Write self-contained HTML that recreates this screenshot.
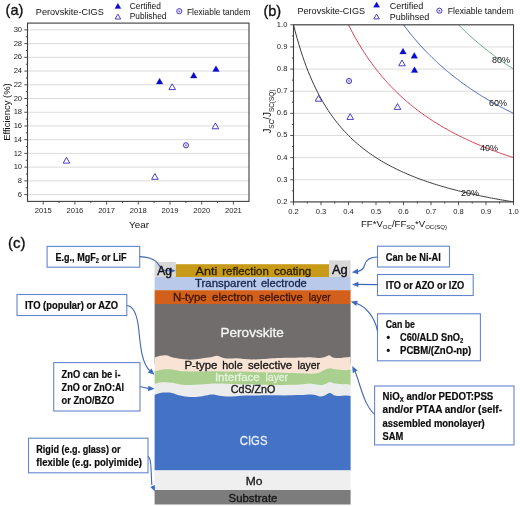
<!DOCTYPE html>
<html><head><meta charset="utf-8"><title>Perovskite-CIGS tandem</title>
<style>
html,body{margin:0;padding:0;background:#fff;}
body{width:520px;height:506px;overflow:hidden;}
svg{display:block;filter:blur(0.45px);}
text{font-family:"Liberation Sans",sans-serif;}
.t{font-size:7.6px;fill:#222;}
.lg{font-size:8.35px;fill:#111;}
.pc{font-size:9px;fill:#111;}
.ax{font-size:9.8px;fill:#111;}
.pl{font-size:14.2px;fill:#111;stroke:#111;stroke-width:0.35;}
.bx{font-size:10.2px;font-weight:bold;fill:#0c0c0c;stroke:#0c0c0c;stroke-width:0.2;}

.box{fill:#fff;stroke:#6485d0;stroke-width:1.1;}
.ar{fill:none;stroke:#3f66b4;stroke-width:1.1;}
.ah{fill:#3a6cc0;stroke:none;}
</style></head><body>
<svg width="520" height="506" viewBox="0 0 520 506">
<rect width="520" height="506" fill="#fff"/>
<g id="panel-a">
<line x1="27.5" x2="249.0" y1="194.60" y2="194.60" stroke="#dcdcdc" stroke-width="1"/>
<line x1="27.5" x2="249.0" y1="180.88" y2="180.88" stroke="#dcdcdc" stroke-width="1"/>
<line x1="27.5" x2="249.0" y1="167.15" y2="167.15" stroke="#dcdcdc" stroke-width="1"/>
<line x1="27.5" x2="249.0" y1="153.42" y2="153.42" stroke="#dcdcdc" stroke-width="1"/>
<line x1="27.5" x2="249.0" y1="139.70" y2="139.70" stroke="#dcdcdc" stroke-width="1"/>
<line x1="27.5" x2="249.0" y1="125.97" y2="125.97" stroke="#dcdcdc" stroke-width="1"/>
<line x1="27.5" x2="249.0" y1="112.25" y2="112.25" stroke="#dcdcdc" stroke-width="1"/>
<line x1="27.5" x2="249.0" y1="98.53" y2="98.53" stroke="#dcdcdc" stroke-width="1"/>
<line x1="27.5" x2="249.0" y1="84.80" y2="84.80" stroke="#dcdcdc" stroke-width="1"/>
<line x1="27.5" x2="249.0" y1="71.07" y2="71.07" stroke="#dcdcdc" stroke-width="1"/>
<line x1="27.5" x2="249.0" y1="57.35" y2="57.35" stroke="#dcdcdc" stroke-width="1"/>
<line x1="27.5" x2="249.0" y1="43.62" y2="43.62" stroke="#dcdcdc" stroke-width="1"/>
<line x1="27.5" x2="249.0" y1="29.90" y2="29.90" stroke="#dcdcdc" stroke-width="1"/>
<rect x="27.5" y="23.1" width="221.5" height="178.3" fill="none" stroke="#3e3e3e" stroke-width="1.1"/>
<line x1="24.3" x2="27.5" y1="194.60" y2="194.60" stroke="#3e3e3e" stroke-width="0.9"/>
<line x1="25.8" x2="27.5" y1="187.74" y2="187.74" stroke="#3e3e3e" stroke-width="0.9"/>
<line x1="24.3" x2="27.5" y1="180.88" y2="180.88" stroke="#3e3e3e" stroke-width="0.9"/>
<line x1="25.8" x2="27.5" y1="174.01" y2="174.01" stroke="#3e3e3e" stroke-width="0.9"/>
<line x1="24.3" x2="27.5" y1="167.15" y2="167.15" stroke="#3e3e3e" stroke-width="0.9"/>
<line x1="25.8" x2="27.5" y1="160.29" y2="160.29" stroke="#3e3e3e" stroke-width="0.9"/>
<line x1="24.3" x2="27.5" y1="153.42" y2="153.42" stroke="#3e3e3e" stroke-width="0.9"/>
<line x1="25.8" x2="27.5" y1="146.56" y2="146.56" stroke="#3e3e3e" stroke-width="0.9"/>
<line x1="24.3" x2="27.5" y1="139.70" y2="139.70" stroke="#3e3e3e" stroke-width="0.9"/>
<line x1="25.8" x2="27.5" y1="132.84" y2="132.84" stroke="#3e3e3e" stroke-width="0.9"/>
<line x1="24.3" x2="27.5" y1="125.97" y2="125.97" stroke="#3e3e3e" stroke-width="0.9"/>
<line x1="25.8" x2="27.5" y1="119.11" y2="119.11" stroke="#3e3e3e" stroke-width="0.9"/>
<line x1="24.3" x2="27.5" y1="112.25" y2="112.25" stroke="#3e3e3e" stroke-width="0.9"/>
<line x1="25.8" x2="27.5" y1="105.39" y2="105.39" stroke="#3e3e3e" stroke-width="0.9"/>
<line x1="24.3" x2="27.5" y1="98.53" y2="98.53" stroke="#3e3e3e" stroke-width="0.9"/>
<line x1="25.8" x2="27.5" y1="91.66" y2="91.66" stroke="#3e3e3e" stroke-width="0.9"/>
<line x1="24.3" x2="27.5" y1="84.80" y2="84.80" stroke="#3e3e3e" stroke-width="0.9"/>
<line x1="25.8" x2="27.5" y1="77.94" y2="77.94" stroke="#3e3e3e" stroke-width="0.9"/>
<line x1="24.3" x2="27.5" y1="71.07" y2="71.07" stroke="#3e3e3e" stroke-width="0.9"/>
<line x1="25.8" x2="27.5" y1="64.21" y2="64.21" stroke="#3e3e3e" stroke-width="0.9"/>
<line x1="24.3" x2="27.5" y1="57.35" y2="57.35" stroke="#3e3e3e" stroke-width="0.9"/>
<line x1="25.8" x2="27.5" y1="50.49" y2="50.49" stroke="#3e3e3e" stroke-width="0.9"/>
<line x1="24.3" x2="27.5" y1="43.62" y2="43.62" stroke="#3e3e3e" stroke-width="0.9"/>
<line x1="25.8" x2="27.5" y1="36.76" y2="36.76" stroke="#3e3e3e" stroke-width="0.9"/>
<line x1="24.3" x2="27.5" y1="29.90" y2="29.90" stroke="#3e3e3e" stroke-width="0.9"/>
<text class="t" x="22.1" y="196.70" text-anchor="end">6</text>
<text class="t" x="22.1" y="182.97" text-anchor="end">8</text>
<text class="t" x="22.1" y="169.25" text-anchor="end">10</text>
<text class="t" x="22.1" y="155.52" text-anchor="end">12</text>
<text class="t" x="22.1" y="141.80" text-anchor="end">14</text>
<text class="t" x="22.1" y="128.07" text-anchor="end">16</text>
<text class="t" x="22.1" y="114.35" text-anchor="end">18</text>
<text class="t" x="22.1" y="100.62" text-anchor="end">20</text>
<text class="t" x="22.1" y="86.90" text-anchor="end">22</text>
<text class="t" x="22.1" y="73.17" text-anchor="end">24</text>
<text class="t" x="22.1" y="59.45" text-anchor="end">26</text>
<text class="t" x="22.1" y="45.73" text-anchor="end">28</text>
<text class="t" x="22.1" y="32.00" text-anchor="end">30</text>
<line x1="43.20" x2="43.20" y1="201.4" y2="204.6" stroke="#3e3e3e" stroke-width="0.9"/>
<line x1="59.05" x2="59.05" y1="201.4" y2="203.1" stroke="#3e3e3e" stroke-width="0.9"/>
<line x1="74.90" x2="74.90" y1="201.4" y2="204.6" stroke="#3e3e3e" stroke-width="0.9"/>
<line x1="90.75" x2="90.75" y1="201.4" y2="203.1" stroke="#3e3e3e" stroke-width="0.9"/>
<line x1="106.60" x2="106.60" y1="201.4" y2="204.6" stroke="#3e3e3e" stroke-width="0.9"/>
<line x1="122.45" x2="122.45" y1="201.4" y2="203.1" stroke="#3e3e3e" stroke-width="0.9"/>
<line x1="138.30" x2="138.30" y1="201.4" y2="204.6" stroke="#3e3e3e" stroke-width="0.9"/>
<line x1="154.15" x2="154.15" y1="201.4" y2="203.1" stroke="#3e3e3e" stroke-width="0.9"/>
<line x1="170.00" x2="170.00" y1="201.4" y2="204.6" stroke="#3e3e3e" stroke-width="0.9"/>
<line x1="185.85" x2="185.85" y1="201.4" y2="203.1" stroke="#3e3e3e" stroke-width="0.9"/>
<line x1="201.70" x2="201.70" y1="201.4" y2="204.6" stroke="#3e3e3e" stroke-width="0.9"/>
<line x1="217.55" x2="217.55" y1="201.4" y2="203.1" stroke="#3e3e3e" stroke-width="0.9"/>
<line x1="233.40" x2="233.40" y1="201.4" y2="204.6" stroke="#3e3e3e" stroke-width="0.9"/>
<text class="t" x="43.20" y="212.9" text-anchor="middle">2015</text>
<text class="t" x="74.90" y="212.9" text-anchor="middle">2016</text>
<text class="t" x="106.60" y="212.9" text-anchor="middle">2017</text>
<text class="t" x="138.30" y="212.9" text-anchor="middle">2018</text>
<text class="t" x="170.00" y="212.9" text-anchor="middle">2019</text>
<text class="t" x="201.70" y="212.9" text-anchor="middle">2020</text>
<text class="t" x="233.40" y="212.9" text-anchor="middle">2021</text>
<text class="ax" x="139" y="227.5" text-anchor="middle">Year</text>
<text class="ax" transform="translate(9.7,112) rotate(-90)" text-anchor="middle" style="font-size:9.45px">Efficiency (%)</text>
<text class="pl" x="5.6" y="14.6" style="font-size:14.6px">(a)</text>
<text class="pc" x="35.8" y="15" textLength="68" lengthAdjust="spacingAndGlyphs">Perovskite-CIGS</text>
<polygon points="117.9,3.3 114.9,8.5 120.9,8.5" fill="#0a0acd" stroke="#0a0acd" stroke-width="0.3"/>
<polygon points="117.9,14.2 115.1,19.0 120.7,19.0" fill="#fff" stroke="#4a3fc4" stroke-width="1"/>
<text class="lg" x="129.8" y="9.1">Certified</text>
<text class="lg" x="129.8" y="19.3">Published</text>
<circle cx="179.3" cy="11.2" r="2.6" fill="#e4e2f6" stroke="#4a3fc4" stroke-width="1"/><circle cx="179.3" cy="11.2" r="0.7" fill="#4a3fc4"/>
<text class="lg" x="187" y="14.9" textLength="63.5" lengthAdjust="spacingAndGlyphs">Flexiable tandem</text>
<polygon points="159.6,78.2 156.3,84.0 162.9,84.0" fill="#0a0acd" stroke="#0a0acd" stroke-width="0.3"/>
<polygon points="193.7,72.3 190.4,78.1 197.0,78.1" fill="#0a0acd" stroke="#0a0acd" stroke-width="0.3"/>
<polygon points="216.0,65.7 212.7,71.5 219.3,71.5" fill="#0a0acd" stroke="#0a0acd" stroke-width="0.3"/>
<polygon points="66.5,157.3 63.2,163.1 69.8,163.1" fill="#fff" stroke="#4a3fc4" stroke-width="1"/>
<polygon points="154.9,173.5 151.6,179.3 158.2,179.3" fill="#fff" stroke="#4a3fc4" stroke-width="1"/>
<polygon points="172.2,83.8 168.9,89.6 175.5,89.6" fill="#fff" stroke="#4a3fc4" stroke-width="1"/>
<polygon points="215.4,123.0 212.1,128.8 218.7,128.8" fill="#fff" stroke="#4a3fc4" stroke-width="1"/>
<circle cx="186.0" cy="145.3" r="2.6" fill="#e4e2f6" stroke="#4a3fc4" stroke-width="1"/><circle cx="186.0" cy="145.3" r="0.7" fill="#4a3fc4"/>
</g>
<g id="panel-b">
<line x1="293.5" x2="513.5" y1="201.90" y2="201.90" stroke="#dcdcdc" stroke-width="1"/>
<line x1="293.5" x2="513.5" y1="179.76" y2="179.76" stroke="#dcdcdc" stroke-width="1"/>
<line x1="293.5" x2="513.5" y1="157.62" y2="157.62" stroke="#dcdcdc" stroke-width="1"/>
<line x1="293.5" x2="513.5" y1="135.49" y2="135.49" stroke="#dcdcdc" stroke-width="1"/>
<line x1="293.5" x2="513.5" y1="113.35" y2="113.35" stroke="#dcdcdc" stroke-width="1"/>
<line x1="293.5" x2="513.5" y1="91.21" y2="91.21" stroke="#dcdcdc" stroke-width="1"/>
<line x1="293.5" x2="513.5" y1="69.07" y2="69.07" stroke="#dcdcdc" stroke-width="1"/>
<line x1="293.5" x2="513.5" y1="46.94" y2="46.94" stroke="#dcdcdc" stroke-width="1"/>
<line x1="293.5" x2="513.5" y1="24.80" y2="24.80" stroke="#dcdcdc" stroke-width="1"/>
<clipPath id="cb"><rect x="293.5" y="24.8" width="220.0" height="177.1"/></clipPath>
<polyline clip-path="url(#cb)" points="293.50,24.80 295.33,31.94 297.17,38.64 299.00,44.93 300.83,50.84 302.67,56.42 304.50,61.70 306.33,66.68 308.17,71.41 310.00,75.89 311.83,80.14 313.67,84.19 315.50,88.05 317.33,91.73 319.17,95.24 321.00,98.59 322.83,101.80 324.67,104.87 326.50,107.82 328.33,110.64 330.17,113.35 332.00,115.95 333.83,118.46 335.67,120.87 337.50,123.19 339.33,125.43 341.17,127.58 343.00,129.66 344.83,131.67 346.67,133.61 348.50,135.49 350.33,137.30 352.17,139.06 354.00,140.76 355.83,142.41 357.67,144.00 359.50,145.55 361.33,147.05 363.17,148.51 365.00,149.93 366.83,151.30 368.67,152.64 370.50,153.94 372.33,155.20 374.17,156.43 376.00,157.62 377.83,158.79 379.67,159.93 381.50,161.03 383.33,162.11 385.17,163.16 387.00,164.18 388.83,165.18 390.67,166.16 392.50,167.11 394.33,168.04 396.17,168.95 398.00,169.84 399.83,170.71 401.67,171.55 403.50,172.38 405.33,173.19 407.17,173.99 409.00,174.76 410.83,175.52 412.67,176.27 414.50,177.00 416.33,177.71 418.17,178.41 420.00,179.09 421.83,179.76 423.67,180.42 425.50,181.06 427.33,181.70 429.17,182.32 431.00,182.93 432.83,183.52 434.67,184.11 436.50,184.68 438.33,185.25 440.17,185.80 442.00,186.34 443.83,186.88 445.67,187.40 447.50,187.92 449.33,188.43 451.17,188.92 453.00,189.41 454.83,189.89 456.67,190.37 458.50,190.83 460.33,191.29 462.17,191.74 464.00,192.18 465.83,192.62 467.67,193.04 469.50,193.47 471.33,193.88 473.17,194.29 475.00,194.69 476.83,195.09 478.67,195.48 480.50,195.86 482.33,196.24 484.17,196.61 486.00,196.98 487.83,197.34 489.67,197.70 491.50,198.05 493.33,198.40 495.17,198.74 497.00,199.07 498.83,199.41 500.67,199.73 502.50,200.06 504.33,200.37 506.17,200.69 508.00,201.00 509.83,201.30 511.67,201.60 513.50,201.90" fill="none" stroke="#3c3c3c" stroke-width="1"/>
<polyline clip-path="url(#cb)" points="348.50,24.80 349.88,27.53 351.25,30.20 352.62,32.80 354.00,35.34 355.38,37.82 356.75,40.24 358.12,42.61 359.50,44.92 360.88,47.19 362.25,49.40 363.62,51.56 365.00,53.68 366.38,55.74 367.75,57.77 369.12,59.75 370.50,61.70 371.88,63.60 373.25,65.46 374.62,67.29 376.00,69.07 377.38,70.83 378.75,72.55 380.12,74.23 381.50,75.89 382.88,77.51 384.25,79.10 385.62,80.66 387.00,82.19 388.38,83.70 389.75,85.17 391.12,86.63 392.50,88.05 393.88,89.45 395.25,90.82 396.62,92.17 398.00,93.50 399.38,94.81 400.75,96.09 402.12,97.35 403.50,98.59 404.88,99.81 406.25,101.01 407.62,102.19 409.00,103.35 410.38,104.50 411.75,105.62 413.12,106.73 414.50,107.82 415.88,108.89 417.25,109.94 418.62,110.98 420.00,112.01 421.38,113.02 422.75,114.01 424.12,114.99 425.50,115.95 426.88,116.90 428.25,117.84 429.62,118.76 431.00,119.67 432.38,120.57 433.75,121.46 435.12,122.33 436.50,123.19 437.88,124.04 439.25,124.87 440.62,125.70 442.00,126.51 443.38,127.32 444.75,128.11 446.13,128.89 447.50,129.66 448.88,130.42 450.25,131.18 451.62,131.92 453.00,132.65 454.38,133.37 455.75,134.09 457.12,134.79 458.50,135.49 459.88,136.18 461.25,136.85 462.62,137.52 464.00,138.19 465.38,138.84 466.75,139.49 468.12,140.13 469.50,140.76 470.88,141.38 472.25,142.00 473.62,142.61 475.00,143.21 476.38,143.81 477.75,144.39 479.12,144.97 480.50,145.55 481.88,146.12 483.25,146.68 484.62,147.24 486.00,147.79 487.38,148.33 488.75,148.87 490.12,149.40 491.50,149.93 492.88,150.45 494.25,150.96 495.62,151.47 497.00,151.97 498.37,152.47 499.75,152.96 501.12,153.45 502.50,153.94 503.88,154.41 505.25,154.89 506.62,155.35 508.00,155.82 509.38,156.28 510.75,156.73 512.12,157.18 513.50,157.62" fill="none" stroke="#d83c4c" stroke-width="1"/>
<polyline clip-path="url(#cb)" points="403.50,24.80 404.42,26.02 405.33,27.23 406.25,28.43 407.17,29.61 408.08,30.78 409.00,31.94 409.92,33.09 410.83,34.22 411.75,35.34 412.67,36.45 413.58,37.55 414.50,38.64 415.42,39.71 416.33,40.78 417.25,41.83 418.17,42.87 419.08,43.90 420.00,44.93 420.92,45.94 421.83,46.94 422.75,47.93 423.67,48.91 424.58,49.88 425.50,50.84 426.42,51.80 427.33,52.74 428.25,53.67 429.17,54.60 430.08,55.52 431.00,56.42 431.92,57.32 432.83,58.22 433.75,59.10 434.67,59.97 435.58,60.84 436.50,61.70 437.42,62.55 438.33,63.39 439.25,64.22 440.17,65.05 441.08,65.87 442.00,66.68 442.92,67.49 443.83,68.28 444.75,69.08 445.67,69.86 446.58,70.64 447.50,71.41 448.42,72.17 449.33,72.93 450.25,73.68 451.17,74.42 452.08,75.16 453.00,75.89 453.92,76.61 454.83,77.33 455.75,78.04 456.67,78.75 457.58,79.45 458.50,80.14 459.42,80.83 460.33,81.52 461.25,82.19 462.17,82.87 463.08,83.53 464.00,84.19 464.92,84.85 465.83,85.50 466.75,86.14 467.67,86.79 468.58,87.42 469.50,88.05 470.42,88.68 471.33,89.30 472.25,89.91 473.17,90.52 474.08,91.13 475.00,91.73 475.92,92.32 476.83,92.92 477.75,93.50 478.67,94.09 479.58,94.66 480.50,95.24 481.42,95.81 482.33,96.37 483.25,96.93 484.17,97.49 485.08,98.04 486.00,98.59 486.92,99.14 487.83,99.68 488.75,100.21 489.67,100.75 490.58,101.28 491.50,101.80 492.42,102.32 493.33,102.84 494.25,103.35 495.17,103.86 496.08,104.37 497.00,104.87 497.92,105.37 498.83,105.87 499.75,106.36 500.67,106.85 501.58,107.33 502.50,107.82 503.42,108.29 504.33,108.77 505.25,109.24 506.17,109.71 507.08,110.18 508.00,110.64 508.92,111.10 509.83,111.56 510.75,112.01 511.67,112.46 512.58,112.91 513.50,113.35" fill="none" stroke="#3f62b8" stroke-width="1"/>
<polyline clip-path="url(#cb)" points="458.50,24.80 458.96,25.26 459.42,25.72 459.88,26.18 460.33,26.63 460.79,27.08 461.25,27.53 461.71,27.98 462.17,28.43 462.62,28.87 463.08,29.32 463.54,29.76 464.00,30.20 464.46,30.64 464.92,31.07 465.38,31.51 465.83,31.94 466.29,32.37 466.75,32.80 467.21,33.23 467.67,33.66 468.12,34.08 468.58,34.50 469.04,34.92 469.50,35.34 469.96,35.76 470.42,36.18 470.88,36.59 471.33,37.00 471.79,37.41 472.25,37.82 472.71,38.23 473.17,38.64 473.62,39.04 474.08,39.44 474.54,39.84 475.00,40.24 475.46,40.64 475.92,41.04 476.38,41.44 476.83,41.83 477.29,42.22 477.75,42.61 478.21,43.00 478.67,43.39 479.12,43.77 479.58,44.16 480.04,44.54 480.50,44.92 480.96,45.31 481.42,45.68 481.88,46.06 482.33,46.44 482.79,46.81 483.25,47.19 483.71,47.56 484.17,47.93 484.62,48.30 485.08,48.67 485.54,49.03 486.00,49.40 486.46,49.76 486.92,50.12 487.38,50.48 487.83,50.84 488.29,51.20 488.75,51.56 489.21,51.92 489.67,52.27 490.12,52.62 490.58,52.98 491.04,53.33 491.50,53.68 491.96,54.02 492.42,54.37 492.88,54.72 493.33,55.06 493.79,55.40 494.25,55.74 494.71,56.09 495.17,56.42 495.62,56.76 496.08,57.10 496.54,57.44 497.00,57.77 497.46,58.10 497.92,58.44 498.38,58.77 498.83,59.10 499.29,59.43 499.75,59.75 500.21,60.08 500.67,60.41 501.12,60.73 501.58,61.05 502.04,61.38 502.50,61.70 502.96,62.02 503.42,62.33 503.88,62.65 504.33,62.97 504.79,63.28 505.25,63.60 505.71,63.91 506.17,64.22 506.62,64.53 507.08,64.84 507.54,65.15 508.00,65.46 508.46,65.77 508.92,66.07 509.38,66.38 509.83,66.68 510.29,66.98 510.75,67.29 511.21,67.59 511.67,67.89 512.12,68.19 512.58,68.48 513.04,68.78 513.50,69.07" fill="none" stroke="#4f9a78" stroke-width="1"/>
<rect x="293.5" y="24.8" width="220.0" height="177.1" fill="none" stroke="#3e3e3e" stroke-width="1.1"/>
<line x1="290.3" x2="293.5" y1="201.90" y2="201.90" stroke="#3e3e3e" stroke-width="0.9"/>
<line x1="293.50" x2="293.50" y1="201.9" y2="205.1" stroke="#3e3e3e" stroke-width="0.9"/>
<line x1="291.8" x2="293.5" y1="190.83" y2="190.83" stroke="#3e3e3e" stroke-width="0.9"/>
<line x1="307.25" x2="307.25" y1="201.9" y2="203.6" stroke="#3e3e3e" stroke-width="0.9"/>
<line x1="290.3" x2="293.5" y1="179.76" y2="179.76" stroke="#3e3e3e" stroke-width="0.9"/>
<line x1="321.00" x2="321.00" y1="201.9" y2="205.1" stroke="#3e3e3e" stroke-width="0.9"/>
<line x1="291.8" x2="293.5" y1="168.69" y2="168.69" stroke="#3e3e3e" stroke-width="0.9"/>
<line x1="334.75" x2="334.75" y1="201.9" y2="203.6" stroke="#3e3e3e" stroke-width="0.9"/>
<line x1="290.3" x2="293.5" y1="157.62" y2="157.62" stroke="#3e3e3e" stroke-width="0.9"/>
<line x1="348.50" x2="348.50" y1="201.9" y2="205.1" stroke="#3e3e3e" stroke-width="0.9"/>
<line x1="291.8" x2="293.5" y1="146.56" y2="146.56" stroke="#3e3e3e" stroke-width="0.9"/>
<line x1="362.25" x2="362.25" y1="201.9" y2="203.6" stroke="#3e3e3e" stroke-width="0.9"/>
<line x1="290.3" x2="293.5" y1="135.49" y2="135.49" stroke="#3e3e3e" stroke-width="0.9"/>
<line x1="376.00" x2="376.00" y1="201.9" y2="205.1" stroke="#3e3e3e" stroke-width="0.9"/>
<line x1="291.8" x2="293.5" y1="124.42" y2="124.42" stroke="#3e3e3e" stroke-width="0.9"/>
<line x1="389.75" x2="389.75" y1="201.9" y2="203.6" stroke="#3e3e3e" stroke-width="0.9"/>
<line x1="290.3" x2="293.5" y1="113.35" y2="113.35" stroke="#3e3e3e" stroke-width="0.9"/>
<line x1="403.50" x2="403.50" y1="201.9" y2="205.1" stroke="#3e3e3e" stroke-width="0.9"/>
<line x1="291.8" x2="293.5" y1="102.28" y2="102.28" stroke="#3e3e3e" stroke-width="0.9"/>
<line x1="417.25" x2="417.25" y1="201.9" y2="203.6" stroke="#3e3e3e" stroke-width="0.9"/>
<line x1="290.3" x2="293.5" y1="91.21" y2="91.21" stroke="#3e3e3e" stroke-width="0.9"/>
<line x1="431.00" x2="431.00" y1="201.9" y2="205.1" stroke="#3e3e3e" stroke-width="0.9"/>
<line x1="291.8" x2="293.5" y1="80.14" y2="80.14" stroke="#3e3e3e" stroke-width="0.9"/>
<line x1="444.75" x2="444.75" y1="201.9" y2="203.6" stroke="#3e3e3e" stroke-width="0.9"/>
<line x1="290.3" x2="293.5" y1="69.07" y2="69.07" stroke="#3e3e3e" stroke-width="0.9"/>
<line x1="458.50" x2="458.50" y1="201.9" y2="205.1" stroke="#3e3e3e" stroke-width="0.9"/>
<line x1="291.8" x2="293.5" y1="58.01" y2="58.01" stroke="#3e3e3e" stroke-width="0.9"/>
<line x1="472.25" x2="472.25" y1="201.9" y2="203.6" stroke="#3e3e3e" stroke-width="0.9"/>
<line x1="290.3" x2="293.5" y1="46.94" y2="46.94" stroke="#3e3e3e" stroke-width="0.9"/>
<line x1="486.00" x2="486.00" y1="201.9" y2="205.1" stroke="#3e3e3e" stroke-width="0.9"/>
<line x1="291.8" x2="293.5" y1="35.87" y2="35.87" stroke="#3e3e3e" stroke-width="0.9"/>
<line x1="499.75" x2="499.75" y1="201.9" y2="203.6" stroke="#3e3e3e" stroke-width="0.9"/>
<line x1="290.3" x2="293.5" y1="24.80" y2="24.80" stroke="#3e3e3e" stroke-width="0.9"/>
<line x1="513.50" x2="513.50" y1="201.9" y2="205.1" stroke="#3e3e3e" stroke-width="0.9"/>
<text class="t" x="287.4" y="203.80" text-anchor="end">0.2</text>
<text class="t" x="293.50" y="214.3" text-anchor="middle">0.2</text>
<text class="t" x="287.4" y="181.66" text-anchor="end">0.3</text>
<text class="t" x="321.00" y="214.3" text-anchor="middle">0.3</text>
<text class="t" x="287.4" y="159.53" text-anchor="end">0.4</text>
<text class="t" x="348.50" y="214.3" text-anchor="middle">0.4</text>
<text class="t" x="287.4" y="137.39" text-anchor="end">0.5</text>
<text class="t" x="376.00" y="214.3" text-anchor="middle">0.5</text>
<text class="t" x="287.4" y="115.25" text-anchor="end">0.6</text>
<text class="t" x="403.50" y="214.3" text-anchor="middle">0.6</text>
<text class="t" x="287.4" y="93.11" text-anchor="end">0.7</text>
<text class="t" x="431.00" y="214.3" text-anchor="middle">0.7</text>
<text class="t" x="287.4" y="70.97" text-anchor="end">0.8</text>
<text class="t" x="458.50" y="214.3" text-anchor="middle">0.8</text>
<text class="t" x="287.4" y="48.84" text-anchor="end">0.9</text>
<text class="t" x="486.00" y="214.3" text-anchor="middle">0.9</text>
<text class="t" x="287.4" y="26.70" text-anchor="end">1.0</text>
<text class="t" x="513.50" y="214.3" text-anchor="middle">1.0</text>
<text class="pc" x="492" y="63.2">80%</text>
<text class="pc" x="489" y="106.2">60%</text>
<text class="pc" x="480" y="150.6">40%</text>
<text class="pc" x="461" y="196">20%</text>
<text class="ax" x="361" y="227.4" textLength="86" lengthAdjust="spacingAndGlyphs">FF*V<tspan dy="2" font-size="6.2px">OC</tspan><tspan dy="-2">/FF</tspan><tspan dy="2" font-size="6.2px">SQ</tspan><tspan dy="-2">*V</tspan><tspan dy="2" font-size="6.2px">OC(SQ)</tspan></text>
<text class="ax" transform="translate(271.4,133.5) rotate(-90)" style="font-size:10.2px" textLength="44" lengthAdjust="spacingAndGlyphs">J<tspan dy="2.4" font-size="6.8px">SC</tspan><tspan dy="-2.4">/J</tspan><tspan dy="2.4" font-size="6.8px">SC(SQ)</tspan></text>
<text class="pl" x="263.4" y="15.9" style="font-size:14.6px">(b)</text>
<text class="pc" x="297.5" y="13.8" textLength="67.5" lengthAdjust="spacingAndGlyphs">Perovskite-CIGS</text>
<polygon points="376.6,2.0 373.5,7.2 379.7,7.2" fill="#0a0acd" stroke="#0a0acd" stroke-width="0.3"/>
<polygon points="376.6,14.1 373.8,18.9 379.4,18.9" fill="#fff" stroke="#4a3fc4" stroke-width="1"/>
<text class="pc" x="389.8" y="8.7">Certified</text>
<text class="pc" x="389.8" y="19.6">Publihsed</text>
<circle cx="439.4" cy="10.7" r="2.6" fill="#e4e2f6" stroke="#4a3fc4" stroke-width="1"/><circle cx="439.4" cy="10.7" r="0.7" fill="#4a3fc4"/>
<text class="pc" x="447.7" y="13.9" textLength="66" lengthAdjust="spacingAndGlyphs">Flexiable tandem</text>
<polygon points="403.0,48.2 399.7,54.0 406.3,54.0" fill="#0a0acd" stroke="#0a0acd" stroke-width="0.3"/>
<polygon points="414.3,52.4 411.0,58.2 417.6,58.2" fill="#0a0acd" stroke="#0a0acd" stroke-width="0.3"/>
<polygon points="414.5,66.8 411.2,72.6 417.8,72.6" fill="#0a0acd" stroke="#0a0acd" stroke-width="0.3"/>
<polygon points="402.0,60.0 398.7,65.8 405.3,65.8" fill="#fff" stroke="#4a3fc4" stroke-width="1"/>
<polygon points="397.5,103.6 394.2,109.4 400.8,109.4" fill="#fff" stroke="#4a3fc4" stroke-width="1"/>
<polygon points="318.5,95.4 315.2,101.2 321.8,101.2" fill="#fff" stroke="#4a3fc4" stroke-width="1"/>
<polygon points="350.2,113.6 346.9,119.4 353.5,119.4" fill="#fff" stroke="#4a3fc4" stroke-width="1"/>
<circle cx="349.0" cy="81.0" r="2.6" fill="#e4e2f6" stroke="#4a3fc4" stroke-width="1"/><circle cx="349.0" cy="81.0" r="0.7" fill="#4a3fc4"/>
</g>
<g id="panel-c">
<text class="pl" x="8" y="248.3" style="font-size:15px">(c)</text>
<rect x="154.6" y="261.9" width="21.2" height="15.2" fill="#d8d8d8"/>
<rect x="329" y="260.4" width="21.6" height="16.8" fill="#d8d8d8"/>
<rect x="175.8" y="264.2" width="153.2" height="13" fill="#c79a17"/>
<rect x="154.6" y="277" width="196.0" height="13.4" fill="#b9c9ea"/>
<rect x="154.6" y="290.2" width="196.0" height="14" fill="#d3601a"/>
<rect x="154.6" y="304" width="196.0" height="60" fill="#726d6d"/>
<path d="M154.6,357.8 L154.6,357.8 C155.5,357.5 158.1,356.2 160.0,355.8 C161.9,355.4 164.0,355.0 166.0,355.2 C168.0,355.4 169.7,356.6 172.0,357.2 C174.3,357.8 177.3,358.4 180.0,358.8 C182.7,359.2 185.3,359.5 188.0,359.6 C190.7,359.7 193.3,359.5 196.0,359.2 C198.7,358.9 201.3,358.4 204.0,358.0 C206.7,357.6 209.8,357.4 212.0,357.0 C214.2,356.6 215.3,355.7 217.0,355.8 C218.7,355.9 220.2,356.9 222.0,357.4 C223.8,357.9 225.7,358.5 228.0,358.6 C230.3,358.7 233.3,358.1 236.0,358.2 C238.7,358.3 241.3,358.8 244.0,359.0 C246.7,359.2 249.3,359.4 252.0,359.4 C254.7,359.4 257.0,359.4 260.0,359.2 C263.0,359.0 266.7,358.6 270.0,358.4 C273.3,358.2 276.3,358.1 280.0,358.0 C283.7,357.9 288.0,357.9 292.0,357.8 C296.0,357.7 300.7,357.7 304.0,357.6 C307.3,357.5 309.3,357.3 312.0,357.4 C314.7,357.4 317.8,358.0 320.0,357.9 C322.2,357.8 323.4,357.4 325.0,357.0 C326.6,356.6 328.0,355.2 329.3,355.3 C330.6,355.4 331.0,357.0 332.7,357.4 C334.4,357.8 337.6,357.9 339.6,357.9 C341.6,357.9 342.8,357.5 344.6,357.4 C346.4,357.2 349.6,357.1 350.6,357.0 L350.6,370.4 C349.7,370.5 346.8,370.8 345.0,370.8 C343.2,370.8 341.7,370.6 340.0,370.4 C338.3,370.3 336.4,370.2 334.7,369.9 C333.0,369.7 331.4,368.8 329.8,368.9 C328.2,369.0 326.4,369.8 324.8,370.4 C323.2,371.1 321.6,372.2 320.0,372.8 C318.4,373.4 317.5,374.0 315.0,374.2 C312.5,374.4 309.2,374.1 305.0,374.0 C300.8,373.9 295.0,373.7 290.0,373.6 C285.0,373.5 280.0,373.3 275.0,373.2 C270.0,373.1 264.5,372.9 260.0,372.8 C255.5,372.7 252.0,372.5 248.0,372.4 C244.0,372.3 240.0,372.3 236.0,372.2 C232.0,372.1 228.0,372.1 224.0,372.0 C220.0,371.9 216.0,371.8 212.0,371.8 C208.0,371.8 203.7,372.0 200.0,372.0 C196.3,372.0 193.3,372.1 190.0,372.0 C186.7,371.9 183.0,371.9 180.0,371.6 C177.0,371.3 174.3,370.5 172.0,370.2 C169.7,369.9 168.0,369.7 166.0,369.8 C164.0,369.9 161.9,370.2 160.0,370.6 C158.1,371.0 155.5,371.9 154.6,372.2 Z" fill="#f8e3d5"/>
<path d="M154.6,371.6 L154.6,371.6 C155.5,371.3 158.1,370.4 160.0,370.0 C161.9,369.6 164.0,369.3 166.0,369.2 C168.0,369.1 169.7,369.3 172.0,369.6 C174.3,369.9 177.0,370.7 180.0,371.0 C183.0,371.3 186.7,371.3 190.0,371.4 C193.3,371.5 196.3,371.4 200.0,371.4 C203.7,371.4 208.0,371.2 212.0,371.2 C216.0,371.2 220.0,371.3 224.0,371.4 C228.0,371.5 232.0,371.5 236.0,371.6 C240.0,371.7 244.0,371.7 248.0,371.8 C252.0,371.9 255.5,372.1 260.0,372.2 C264.5,372.3 270.0,372.5 275.0,372.6 C280.0,372.7 285.0,372.9 290.0,373.0 C295.0,373.1 300.8,373.3 305.0,373.4 C309.2,373.5 312.5,373.8 315.0,373.6 C317.5,373.4 318.4,372.8 320.0,372.2 C321.6,371.6 323.2,370.4 324.8,369.8 C326.4,369.2 328.2,368.4 329.8,368.3 C331.4,368.2 333.0,369.1 334.7,369.3 C336.4,369.6 338.3,369.7 340.0,369.8 C341.7,369.9 343.2,370.2 345.0,370.2 C346.8,370.2 349.7,369.9 350.6,369.8 L350.6,385.2 C349.7,385.1 346.8,384.9 345.0,384.8 C343.2,384.7 341.7,384.8 340.0,384.7 C338.3,384.6 336.4,384.5 334.7,384.2 C333.0,383.9 331.1,382.7 329.8,382.7 C328.5,382.7 328.1,383.7 326.8,384.2 C325.5,384.7 323.7,385.5 321.9,385.7 C320.1,385.9 318.0,385.5 316.0,385.2 C314.0,385.0 312.7,384.2 310.0,384.2 C307.3,384.2 304.2,385.0 300.0,385.2 C295.8,385.4 290.0,385.6 285.0,385.6 C280.0,385.6 274.8,385.5 270.0,385.4 C265.2,385.3 260.3,385.1 256.0,385.0 C251.7,384.9 248.0,385.1 244.0,385.0 C240.0,384.9 236.0,384.7 232.0,384.6 C228.0,384.5 223.7,384.2 220.0,384.2 C216.3,384.2 213.3,384.2 210.0,384.4 C206.7,384.6 203.3,385.0 200.0,385.2 C196.7,385.4 193.3,385.6 190.0,385.6 C186.7,385.6 183.0,385.4 180.0,385.0 C177.0,384.6 174.5,383.8 172.0,383.4 C169.5,383.0 167.0,382.8 165.0,382.8 C163.0,382.8 161.7,382.9 160.0,383.2 C158.3,383.5 155.5,384.2 154.6,384.4 Z" fill="#a9d08e"/>
<path d="M154.6,383.8 L154.6,383.8 C155.5,383.6 158.3,382.9 160.0,382.6 C161.7,382.3 163.0,382.2 165.0,382.2 C167.0,382.2 169.5,382.4 172.0,382.8 C174.5,383.2 177.0,384.0 180.0,384.4 C183.0,384.8 186.7,385.0 190.0,385.0 C193.3,385.0 196.7,384.8 200.0,384.6 C203.3,384.4 206.7,384.0 210.0,383.8 C213.3,383.6 216.3,383.6 220.0,383.6 C223.7,383.6 228.0,383.9 232.0,384.0 C236.0,384.1 240.0,384.3 244.0,384.4 C248.0,384.5 251.7,384.3 256.0,384.4 C260.3,384.5 265.2,384.7 270.0,384.8 C274.8,384.9 280.0,385.0 285.0,385.0 C290.0,385.0 295.8,384.8 300.0,384.6 C304.2,384.4 307.3,383.6 310.0,383.6 C312.7,383.6 314.0,384.4 316.0,384.6 C318.0,384.9 320.1,385.3 321.9,385.1 C323.7,384.9 325.5,384.1 326.8,383.6 C328.1,383.1 328.5,382.1 329.8,382.1 C331.1,382.1 333.0,383.3 334.7,383.6 C336.4,383.9 338.3,384.0 340.0,384.1 C341.7,384.2 343.2,384.1 345.0,384.2 C346.8,384.3 349.7,384.5 350.6,384.6 L350.6,396.6 C349.7,396.5 346.8,396.2 345.0,396.2 C343.2,396.2 341.3,396.6 339.6,396.6 C337.9,396.6 336.3,396.6 334.7,396.1 C333.1,395.6 331.4,393.6 329.8,393.6 C328.2,393.6 326.4,395.5 324.8,396.1 C323.2,396.7 321.6,397.1 320.0,397.0 C318.4,396.9 316.7,395.9 315.0,395.6 C313.3,395.3 312.5,395.1 310.0,395.1 C307.5,395.1 304.2,395.5 300.0,395.6 C295.8,395.8 290.0,396.0 285.0,396.0 C280.0,396.0 274.8,395.8 270.0,395.8 C265.2,395.8 260.0,395.9 256.0,396.0 C252.0,396.1 249.3,396.1 246.0,396.2 C242.7,396.3 239.3,396.7 236.0,396.8 C232.7,396.9 229.0,397.1 226.0,397.0 C223.0,396.9 220.3,396.3 218.0,396.0 C215.7,395.7 214.0,395.2 212.0,395.2 C210.0,395.2 208.3,395.8 206.0,396.2 C203.7,396.6 200.7,397.2 198.0,397.4 C195.3,397.6 193.0,397.8 190.0,397.6 C187.0,397.4 183.0,396.9 180.0,396.2 C177.0,395.5 174.3,394.1 172.0,393.6 C169.7,393.1 168.0,393.2 166.0,393.2 C164.0,393.2 161.9,393.2 160.0,393.6 C158.1,394.0 155.5,395.1 154.6,395.4 Z" fill="#ececec"/>
<path d="M154.6,394.8 L154.6,394.8 C155.5,394.5 158.1,393.4 160.0,393.0 C161.9,392.6 164.0,392.6 166.0,392.6 C168.0,392.6 169.7,392.5 172.0,393.0 C174.3,393.5 177.0,394.9 180.0,395.6 C183.0,396.3 187.0,396.8 190.0,397.0 C193.0,397.2 195.3,397.0 198.0,396.8 C200.7,396.6 203.7,396.0 206.0,395.6 C208.3,395.2 210.0,394.6 212.0,394.6 C214.0,394.6 215.7,395.1 218.0,395.4 C220.3,395.7 223.0,396.3 226.0,396.4 C229.0,396.5 232.7,396.3 236.0,396.2 C239.3,396.1 242.7,395.7 246.0,395.6 C249.3,395.5 252.0,395.5 256.0,395.4 C260.0,395.3 265.2,395.2 270.0,395.2 C274.8,395.2 280.0,395.4 285.0,395.4 C290.0,395.4 295.8,395.1 300.0,395.0 C304.2,394.9 307.5,394.5 310.0,394.5 C312.5,394.5 313.3,394.7 315.0,395.0 C316.7,395.3 318.4,396.3 320.0,396.4 C321.6,396.5 323.2,396.1 324.8,395.5 C326.4,394.9 328.2,393.0 329.8,393.0 C331.4,393.0 333.1,395.0 334.7,395.5 C336.3,396.0 337.9,396.0 339.6,396.0 C341.3,396.0 343.2,395.6 345.0,395.6 C346.8,395.6 349.7,395.9 350.6,396.0 L350.6,470.6 L154.6,470.6 Z" fill="#4472c4"/>
<rect x="154.6" y="470.4" width="196.0" height="19.8" fill="#efefef"/>
<rect x="154.6" y="490" width="196.0" height="14.5" fill="#7c7c7c"/>
<text class="ly" x="331.9" y="274.3" style="font-size:12.6px" fill="#101018" stroke="#101018" stroke-width="0.4" textLength="15.8" lengthAdjust="spacingAndGlyphs">Ag</text>
<text class="ly" x="195.6" y="275" style="font-size:10.4px" fill="#2a1f04" stroke="#2a1f04" stroke-width="0.3" textLength="21.7" lengthAdjust="spacingAndGlyphs">Anti</text>
<text class="ly" x="222.3" y="275" style="font-size:10.4px" fill="#2a1f04" stroke="#2a1f04" stroke-width="0.3" textLength="46.5" lengthAdjust="spacingAndGlyphs">reflection</text>
<text class="ly" x="274" y="275" style="font-size:10.4px" fill="#2a1f04" stroke="#2a1f04" stroke-width="0.3" textLength="37.3" lengthAdjust="spacingAndGlyphs">coating</text>
<text class="ly" x="195" y="287.3" style="font-size:10.4px" fill="#16254c" stroke="#16254c" stroke-width="0.3" textLength="61.1" lengthAdjust="spacingAndGlyphs">Transparent</text>
<text class="ly" x="260.9" y="287.3" style="font-size:10.4px" fill="#16254c" stroke="#16254c" stroke-width="0.3" textLength="45.9" lengthAdjust="spacingAndGlyphs">electrode</text>
<text class="ly" x="173" y="300.9" style="font-size:10.4px" fill="#3c1504" stroke="#3c1504" stroke-width="0.3" textLength="33.7" lengthAdjust="spacingAndGlyphs">N-type</text>
<text class="ly" x="212" y="300.9" style="font-size:10.4px" fill="#3c1504" stroke="#3c1504" stroke-width="0.3" textLength="41.1" lengthAdjust="spacingAndGlyphs">electron</text>
<text class="ly" x="259" y="300.9" style="font-size:10.4px" fill="#3c1504" stroke="#3c1504" stroke-width="0.3" textLength="43.7" lengthAdjust="spacingAndGlyphs">selective</text>
<text class="ly" x="308.8" y="300.9" style="font-size:10.4px" fill="#3c1504" stroke="#3c1504" stroke-width="0.3" textLength="21.8" lengthAdjust="spacingAndGlyphs">layer</text>
<text class="ly" x="220.5" y="337" style="font-size:13.5px" fill="#f6f6f6" stroke="#f6f6f6" stroke-width="0.3" textLength="63.3" lengthAdjust="spacingAndGlyphs">Perovskite</text>
<text class="ly" x="184.4" y="368.6" style="font-size:10.4px" fill="#151515" stroke="#151515" stroke-width="0.3" textLength="33.1" lengthAdjust="spacingAndGlyphs">P-type</text>
<text class="ly" x="222.3" y="368.6" style="font-size:10.4px" fill="#151515" stroke="#151515" stroke-width="0.3" textLength="20.4" lengthAdjust="spacingAndGlyphs">hole</text>
<text class="ly" x="247.9" y="368.6" style="font-size:10.4px" fill="#151515" stroke="#151515" stroke-width="0.3" textLength="44.3" lengthAdjust="spacingAndGlyphs">selective</text>
<text class="ly" x="297.4" y="368.6" style="font-size:10.4px" fill="#151515" stroke="#151515" stroke-width="0.3" textLength="22.7" lengthAdjust="spacingAndGlyphs">layer</text>
<text class="ly" x="214.9" y="381.1" style="font-size:10.4px" fill="#e6f3dc" stroke="#e6f3dc" stroke-width="0.3" textLength="44.9" lengthAdjust="spacingAndGlyphs">Interface</text>
<text class="ly" x="265.6" y="381.1" style="font-size:10.4px" fill="#e6f3dc" stroke="#e6f3dc" stroke-width="0.3" textLength="22.4" lengthAdjust="spacingAndGlyphs">layer</text>
<text class="ly" x="230.8" y="393.3" style="font-size:10.4px" fill="#151515" stroke="#151515" stroke-width="0.3" textLength="44.6" lengthAdjust="spacingAndGlyphs">CdS/ZnO</text>
<text class="ly" x="239.8" y="444.5" style="font-size:13.5px" fill="#e8f0ff" stroke="#e8f0ff" stroke-width="0.3" textLength="27.7" lengthAdjust="spacingAndGlyphs">CIGS</text>
<text class="ly" x="245.7" y="485" style="font-size:10.4px" fill="#222" stroke="#222" stroke-width="0.3" textLength="16.8" lengthAdjust="spacingAndGlyphs">Mo</text>
<text class="ly" x="228.6" y="501.5" style="font-size:10.4px" fill="#151515" stroke="#151515" stroke-width="0.3" textLength="48.8" lengthAdjust="spacingAndGlyphs">Substrate</text>
<rect class="box" x="47.1" y="246.4" width="92.6" height="20.8"/>
<text class="bx" x="55.5" y="260.7" textLength="71.1" lengthAdjust="spacingAndGlyphs">E.g., MgF<tspan dy="1.8" font-size="6.4px">2</tspan><tspan dy="-1.8"> or LiF</tspan></text>
<rect class="box" x="17" y="294.5" width="109.8" height="21.0"/>
<text class="bx" x="25" y="308.7" textLength="93.0" lengthAdjust="spacingAndGlyphs">ITO (popular) or AZO</text>
<rect class="box" x="53.7" y="362.6" width="86.3" height="48.4"/>
<text class="bx" x="61.6" y="377.9" textLength="58.9" lengthAdjust="spacingAndGlyphs">ZnO can be i-</text>
<text class="bx" x="61.6" y="390.8" textLength="62.4" lengthAdjust="spacingAndGlyphs">ZnO or ZnO:Al</text>
<text class="bx" x="61.6" y="403.9" textLength="52.6" lengthAdjust="spacingAndGlyphs">or ZnO/BZO</text>
<rect class="box" x="28.5" y="438.2" width="119.5" height="34.6"/>
<text class="bx" x="36.3" y="453.3" textLength="84.2" lengthAdjust="spacingAndGlyphs">Rigid (e.g. glass) or</text>
<text class="bx" x="36.3" y="466.3" textLength="105.7" lengthAdjust="spacingAndGlyphs">flexible (e.g. polyimide)</text>
<rect class="box" x="377.5" y="246.2" width="72.0" height="20.8"/>
<text class="bx" x="385.8" y="260.7" textLength="55.0" lengthAdjust="spacingAndGlyphs">Can be Ni-Al</text>
<rect class="box" x="377.5" y="274.5" width="95.7" height="21.0"/>
<text class="bx" x="385.8" y="288.7" textLength="78.4" lengthAdjust="spacingAndGlyphs">ITO or AZO or IZO</text>
<rect class="box" x="377.5" y="313.8" width="102.9" height="47.0"/>
<text class="bx" x="385.8" y="327.9" textLength="29.2" lengthAdjust="spacingAndGlyphs">Can be</text>
<text class="bx" x="386.4" y="340.9">•</text>
<text class="bx" x="400" y="340.9" textLength="63.2" lengthAdjust="spacingAndGlyphs">C60/ALD SnO<tspan dy="1.8" font-size="6.4px">2</tspan><tspan dy="-1.8"></tspan></text>
<text class="bx" x="386.4" y="354.1">•</text>
<text class="bx" x="400" y="354.1" textLength="71.2" lengthAdjust="spacingAndGlyphs">PCBM/(ZnO-np)</text>
<rect class="box" x="374.6" y="386" width="139.4" height="58.9"/>
<text class="bx" x="382.6" y="400.3" textLength="110.7" lengthAdjust="spacingAndGlyphs">NiO<tspan dy="1.8" font-size="6.4px">X</tspan><tspan dy="-1.8"> and/or PEDOT:PSS</tspan></text>
<text class="bx" x="382.6" y="413.4" textLength="119.4" lengthAdjust="spacingAndGlyphs">and/or PTAA and/or (self-</text>
<text class="bx" x="382.6" y="426.7" textLength="102.1" lengthAdjust="spacingAndGlyphs">assembled monolayer)</text>
<text class="bx" x="382.6" y="439.9" textLength="20.7" lengthAdjust="spacingAndGlyphs">SAM</text>
<path class="ar" d="M139.5,256.6 C146,256.8 152,258 156,261.4 C159,264 160,268.4 163,270 C165,270.8 167,270.8 170.5,270.8"/>
<polygon class="ah" points="175.8,270.8 169.4,273.5 169.4,268.1"/>
<path class="ar" d="M126.8,305.5 C134,306 137.4,316 138.8,330 C140.4,347 142,364 150.6,371.6"/>
<polygon class="ah" points="154.4,374.8 147.8,372.5 151.5,368.5"/>
<path class="ar" d="M140,386.8 C144,386.8 146,388.4 150,388.6"/>
<polygon class="ah" points="154.6,388.8 148.1,391.2 148.4,385.8"/>
<path class="ar" d="M148,456.4 C150,457.4 150.8,462 151,468 L151.8,485"/>
<polygon class="ah" points="154.8,491.4 150.4,486.9 154.9,485.1"/>
<path class="ar" d="M377.5,257 C368,257 365.6,261 364.6,265 C363.6,269.4 360.4,271.2 356.6,271.8"/>
<polygon class="ah" points="351.8,272.2 357.9,268.8 358.4,274.2"/>
<path class="ar" d="M377.5,284.6 L356,284.4"/>
<polygon class="ah" points="352.0,284.4 358.4,281.7 358.4,287.1"/>
<path class="ar" d="M377.5,331.2 C375,318 367,307 355.6,303"/>
<polygon class="ah" points="350.8,301.6 357.7,300.8 356.2,306.0"/>
<path class="ar" d="M374.6,414.4 C363,404 360,382 354.6,370.6"/>
<polygon class="ah" points="352.2,366.0 357.6,370.4 352.8,372.9"/>
<text class="ly" x="157.3" y="274.5" style="font-size:12.6px" fill="#101018" stroke="#101018" stroke-width="0.4" textLength="14.8" lengthAdjust="spacingAndGlyphs">Ag</text>
</g>
</svg>
</body></html>
